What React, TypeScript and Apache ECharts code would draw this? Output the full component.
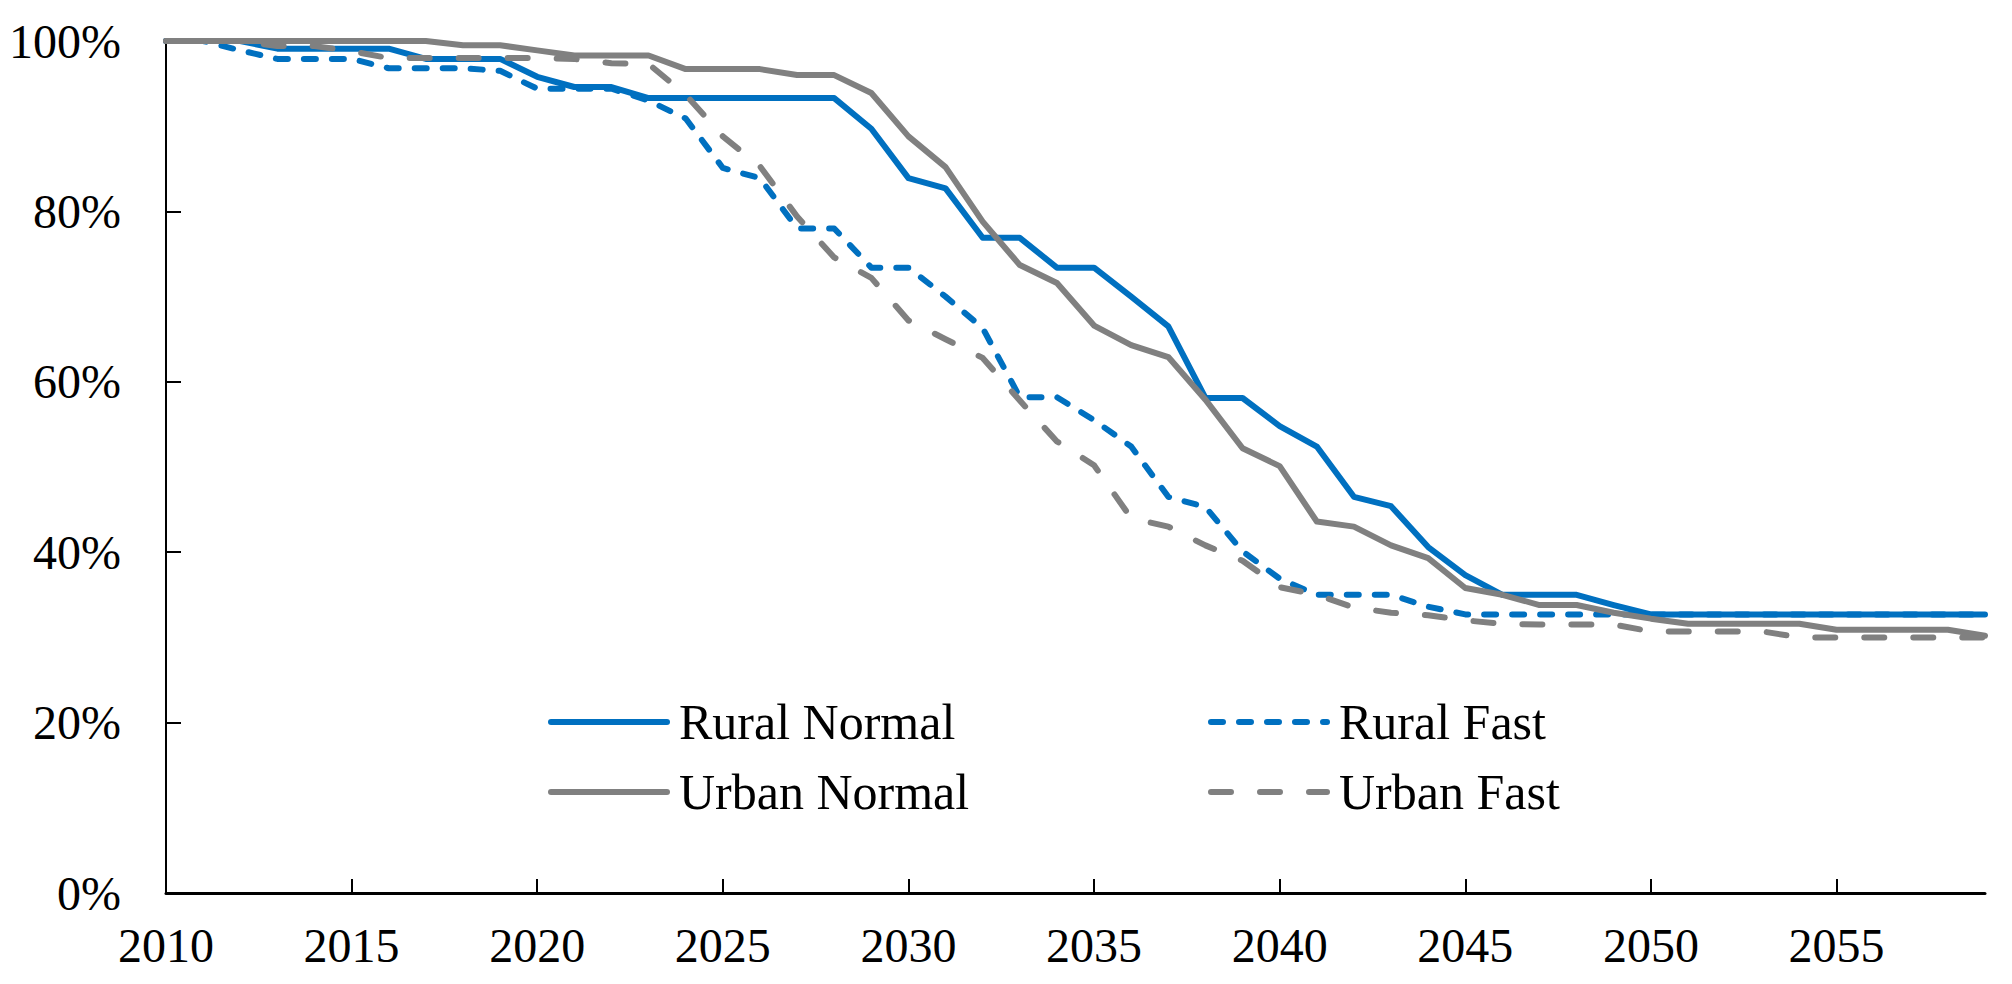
import React, { useEffect, useRef } from "react";
import * as echarts from "echarts";

const YEARS = [
  "2010", "2011", "2012", "2013", "2014", "2015", "2016", "2017", "2018", "2019",
  "2020", "2021", "2022", "2023", "2024", "2025", "2026", "2027", "2028", "2029",
  "2030", "2031", "2032", "2033", "2034", "2035", "2036", "2037", "2038", "2039",
  "2040", "2041", "2042", "2043", "2044", "2045", "2046", "2047", "2048", "2049",
  "2050", "2051", "2052", "2053", "2054", "2055", "2056", "2057", "2058", "2059",
];

const RURAL_NORMAL = [
  100, 100, 100, 99.1, 99.1, 99.1, 99.1, 97.9, 97.9, 97.9,
  95.8, 94.6, 94.6, 93.3, 93.3, 93.3, 93.3, 93.3, 93.3, 89.7,
  83.9, 82.7, 76.9, 76.9, 73.4, 73.4, 70.0, 66.5, 58.1, 58.1,
  54.8, 52.4, 46.5, 45.4, 40.6, 37.3, 35.0, 35.0, 35.0, 33.8,
  32.7, 32.7, 32.7, 32.7, 32.7, 32.7, 32.7, 32.7, 32.7, 32.7,
];

const RURAL_FAST = [
  100, 100, 98.9, 97.9, 97.9, 97.9, 96.8, 96.8, 96.8, 96.5,
  94.4, 94.4, 94.4, 93.0, 90.9, 85.1, 83.9, 78.0, 78.0, 73.4,
  73.4, 70.0, 66.3, 58.2, 58.2, 55.5, 52.4, 46.5, 45.3, 40.1,
  36.9, 35.0, 35.0, 35.0, 33.6, 32.7, 32.7, 32.7, 32.7, 32.7,
  32.7, 32.7, 32.7, 32.7, 32.7, 32.7, 32.7, 32.7, 32.7, 32.7,
];

const URBAN_NORMAL = [
  100, 100, 100, 100, 100, 100, 100, 100, 99.5, 99.5,
  98.9, 98.3, 98.3, 98.3, 96.7, 96.7, 96.7, 96.0, 96.0, 93.9,
  88.8, 85.2, 78.8, 73.7, 71.6, 66.6, 64.3, 62.9, 57.9, 52.2,
  50.1, 43.6, 43.0, 40.8, 39.3, 35.8, 35.0, 33.8, 33.8, 32.9,
  32.2, 31.6, 31.6, 31.6, 31.6, 30.9, 30.9, 30.9, 30.9, 30.2,
];

const URBAN_FAST = [
  100, 100, 100, 99.4, 99.4, 98.8, 98.0, 98.0, 98.0, 98.0,
  98.0, 97.9, 97.4, 97.3, 93.7, 88.8, 85.3, 79.4, 74.6, 72.2,
  67.2, 65.0, 62.8, 57.8, 53.0, 50.2, 44.0, 43.0, 40.8, 39.0,
  35.9, 35.0, 33.5, 32.9, 32.6, 32.0, 31.6, 31.5, 31.5, 31.5,
  30.7, 30.7, 30.7, 30.7, 30.0, 30.0, 30.0, 30.0, 30.0, 30.0,
];

const SERIES_NAMES = ["Rural Normal", "Rural Fast", "Urban Normal", "Urban Fast"];
const Y_TICKS = [0, 20, 40, 60, 80, 100];

const BLUE = "#0070C0";
const GRAY = "#808080";
const FONT = "'Liberation Serif', 'Times New Roman', serif";

export default function App() {
  const ref = useRef<HTMLDivElement>(null);

  useEffect(() => {
    if (!ref.current) return;
    const chart = echarts.init(ref.current, null, { renderer: "svg" });

    const lineSeries = (name: string, data: number[], color: string, type: any) => ({
      name,
      type: "line",
      data,
      symbol: "none",
      smooth: false,
      color,
      lineStyle: { color, width: 6, type, cap: "round", join: "round" },
      emphasis: { disabled: true },
    });

    const legendCommon = {
      orient: "vertical",
      top: 692,
      itemGap: 20,
      itemWidth: 116,
      itemHeight: 14,
      selectedMode: false,
      itemStyle: { opacity: 0 },
      lineStyle: { width: 6, cap: "round" },
      textStyle: {
        fontFamily: FONT,
        fontSize: 50,
        color: "#000",
        padding: [0, 0, 0, 7],
      },
    };

    chart.setOption({
      animation: false,
      backgroundColor: "#ffffff",
      textStyle: { fontFamily: FONT },
      grid: { left: 166, right: 27, top: 41, bottom: 91, containLabel: false },
      legend: [
        { ...legendCommon, left: 543, data: [SERIES_NAMES[0], SERIES_NAMES[2]] },
        { ...legendCommon, left: 1203, data: [SERIES_NAMES[1], SERIES_NAMES[3]] },
      ],
      xAxis: {
        type: "category",
        data: YEARS,
        boundaryGap: false,
        axisLine: { show: true, lineStyle: { color: "#000", width: 3 } },
        axisTick: { show: true, inside: true, length: 14, interval: 4, lineStyle: { color: "#000", width: 2 } },
        axisLabel: {
          interval: 4,
          margin: 28,
          fontFamily: FONT,
          fontSize: 48,
          color: "#000",
        },
        splitLine: { show: false },
      },
      yAxis: {
        type: "value",
        min: Y_TICKS[0],
        max: Y_TICKS[Y_TICKS.length - 1],
        interval: Y_TICKS[1] - Y_TICKS[0],
        axisLine: { show: true, lineStyle: { color: "#000", width: 2 } },
        axisTick: { show: true, inside: true, length: 15, lineStyle: { color: "#000", width: 2 } },
        axisLabel: {
          margin: 45,
          fontFamily: FONT,
          fontSize: 48,
          color: "#000",
          formatter: "{value}%",
        },
        splitLine: { show: false },
      },
      series: [
        lineSeries(SERIES_NAMES[0], RURAL_NORMAL, BLUE, "solid"),
        lineSeries(SERIES_NAMES[1], RURAL_FAST, BLUE, [12, 16]),
        lineSeries(SERIES_NAMES[2], URBAN_NORMAL, GRAY, "solid"),
        lineSeries(SERIES_NAMES[3], URBAN_FAST, GRAY, [20, 29]),
      ],
    });

    return () => chart.dispose();
  }, []);

  return (
    <div
      ref={ref}
      style={{ position: "fixed", left: 0, top: 0, width: 2012, height: 984, background: "#fff" }}
    />
  );
}
